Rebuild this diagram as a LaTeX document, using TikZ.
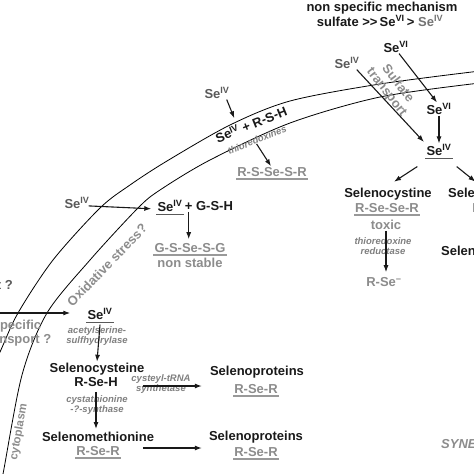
\documentclass[tikz,border=0pt]{standalone}
\usepackage{fontspec}
\setmainfont{Liberation Sans}
\usetikzlibrary{arrows.meta,calc}
\newcommand{\SeIV}{Se\textsuperscript{IV}}
\newcommand{\SeVI}{Se\textsuperscript{VI}}
\tikzset{
  blk/.style={font=\fontsize{13}{14}\selectfont\bfseries,text=black!90,inner sep=1pt},
  gry/.style={blk,text=black!45},
  dkg/.style={blk,text=black!65},
  enz/.style={font=\fontsize{9.5}{10.5}\selectfont\bfseries\itshape,text=black!50,inner sep=0.5pt,align=center},
  arr/.style={-{Latex[length=7pt,width=5pt]},line width=1.1pt,black!90},
  ulbk/.style={line width=1.8pt,black!65},
  ulgy/.style={line width=1.8pt,black!40},
  memb/.style={line width=0.8pt,black},
}
\begin{document}
\begin{tikzpicture}[x=1pt,y=-1pt]
\useasboundingbox (0,0) rectangle (474,474);
% the two membranes
\draw[memb] plot[smooth] coordinates {(-20,395) (0,352) (18,313) (53,260) (100,208) (130,185) (167,161) (230,125) (290,101) (380,84) (480,71)};
\draw[memb] plot[smooth] coordinates {(-3,500) (3,474) (22,375) (47,313) (90,260) (138,208) (160,190) (210,160) (290,123) (380,97) (480,83)};
% sulfate transport
\node[blk] (mech) at (382,8) {non specific mechanism};
\node[blk] (order) at (380,21) {sulfate {>}{>}\,\SeVI\,> {\color{black!55}\SeIV}};
\node[blk] (sevia) at (396,47) {\SeVI};
\node[dkg] (seiva) at (347,63) {\SeIV};
\node[gry,align=center,rotate=-52] (sultr) at (392,88) {Sulfate\\transport};
\node[blk] (sevib) at (439,109) {\SeVI};
\node[blk] (seivb) at (439,150) {\SeIV};
\draw[ulbk] ([yshift=-2pt]seivb.south west) -- ([yshift=-2pt]seivb.south east);
\draw[arr] ([xshift=3pt]sevia.south) -- ([xshift=-2pt]sevib.north);
\draw[arr] (sevib.south) -- (seivb.north);
\draw[arr,shorten >=2pt] ([xshift=-4pt]seiva.south east) -- (seivb.north west);
\node[blk] (cysne) at (388,194) {Selenocystine};
\node[gry] (rsesr) at (387,208) {R-Se-Se-R};
\draw[ulgy] ([yshift=-1.5pt]rsesr.south west) -- ([yshift=-1.5pt]rsesr.south east);
\node[gry] (toxic) at (386,225) {toxic};
\node[enz] (trxr) at (383,246) {thioredoxine\\reductase};
\node[gry] (rse) at (384,282) {R-Se\textsuperscript{−}};
\draw[arr,shorten >=4pt] (toxic.south) -- (toxic.south |- rse.north);
\node[blk,anchor=west] (cysr) at (447,194) {Selenocysteine};
\node[gry] (rsehr) at (494,208) {R-Se-H};
\node[blk,anchor=west] (selr) at (440,252) {Selenoproteins};
\node[gry,font=\fontsize{13}{14}\selectfont\bfseries\itshape,anchor=west] (syne) at (440,444) {SYNECHOCYSTIS};
\draw[arr] ([shift={(-8,10)}]seivb.south west) -- ([shift={(6,-5)}]cysne.north);
\draw[arr] ([shift={(4,10)}]seivb.south east) -- ([shift={(-20,-5)}]cysr.north);
% thioredoxines
\node[dkg] (seivc) at (217,93) {\SeIV};
\node[blk,rotate=22] (rsh) at (251,124) {\SeIV{} + R-S-H};
\node[enz,rotate=22] (thx) at (257,140) {thioredoxines};
\node[gry] (rssr) at (272,172) {R-S-Se-S-R};
\draw[ulgy] ([yshift=-1.5pt]rssr.south west) -- ([yshift=-1.5pt]rssr.south east);
\draw[arr,shorten >=5pt] ([xshift=-4pt]seivc.south east) -- ($(rsh.north west)!0.33!(rsh.north east)$);
\draw[arr] ([xshift=-2pt]thx.south) -- ([xshift=-1pt]rssr.north);
% glutathione
\node[dkg] (seive) at (77,203) {\SeIV};
\node[blk] (seivf) at (170,206) {\SeIV};
\draw[ulbk] ([yshift=-2pt]seivf.south west) -- ([yshift=-2pt]seivf.south east);
\node[blk,anchor=west] (gsh) at (seivf.east) {+ G-S-H};
\draw[arr,shorten <=-2pt,shorten >=5pt] ([yshift=-3pt]seive.east) -- ([yshift=-3pt]seivf.west);
\node[gry] (gssg) at (190,248) {G-S-Se-S-G};
\draw[ulgy] ([yshift=-1.5pt]gssg.south west) -- ([yshift=-1.5pt]gssg.south east);
\node[gry] (nonst) at (190,263) {non stable};
\draw[arr,shorten >=3pt] ([xshift=5pt]gsh.south west) -- ([xshift=5pt]gsh.south west |- gssg.north);
\node[gry,rotate=46] (oxid) at (107,265) {Oxidative stress?};
% non specific transport
\node[dkg,anchor=east] (qm) at (14,285) {t ?};
\coordinate (in) at (-5,313);
\node[blk] (seivg) at (100,314) {\SeIV};
\draw[ulbk] ([yshift=-2pt]seivg.south west) -- ([yshift=-2pt]seivg.south east);
\draw[arr,shorten >=16pt] (in) -- (in -| seivg.west);
\node[gry,align=center] (nst) at (17,333) {specific\\transport ?};
\node[enz] (acet) at (97,336) {acetylserine-\\sulfhydrylase};
\node[blk] (cys) at (97,369) {Selenocysteine};
\node[blk] (rseh) at (96,382) {R-Se-H};
\draw[arr] ([yshift=-4pt]seivg.south) -- (cys.north);
\node[enz] (ctrna) at (161,384) {cysteyl-tRNA\\synthetase};
\node[blk] (selpa) at (257,372) {Selenoproteins};
\node[gry] (rsera) at (256,389) {R-Se-R};
\draw[ulgy] ([yshift=-1.5pt]rsera.south west) -- ([yshift=-1.5pt]rsera.south east);
\draw[arr,shorten <=24pt,shorten >=7pt] ([yshift=-4pt]rseh.east) -- ([yshift=-4pt]rseh.east -| selpa.west);
\node[enz] (cgs) at (97,405) {cystathionine\\-?-synthase};
\node[blk] (met) at (98,437) {Selenomethionine};
\node[gry] (rserb) at (98,451) {R-Se-R};
\draw[ulgy] ([yshift=-1.5pt]rserb.south west) -- ([yshift=-1.5pt]rserb.south east);
\draw[arr,shorten <=4pt,shorten >=2pt] (rseh.south) -- (rseh.south |- met.north);
\node[blk] (selpb) at (256,437) {Selenoproteins};
\node[gry] (rserc) at (256,452) {R-Se-R};
\draw[ulgy] ([yshift=-1.5pt]rserc.south west) -- ([yshift=-1.5pt]rserc.south east);
\draw[arr,shorten <=22pt,shorten >=6pt] ([yshift=3pt]rserb.east) -- ([yshift=3pt]rserb.east -| selpb.west);
\node[gry,font=\fontsize{11.5}{13}\selectfont\bfseries,rotate=80] (cyto) at (19,432) {cytoplasm};
\end{tikzpicture}
\end{document}
